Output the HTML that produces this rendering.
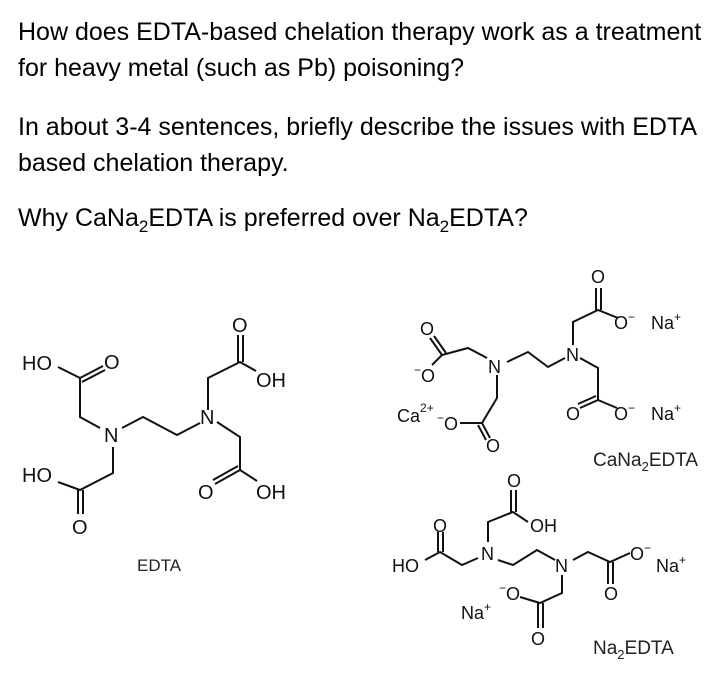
<!DOCTYPE html>
<html><head><style>
body{margin:0;width:727px;height:675px;background:#fff;overflow:hidden;font-family:"Liberation Sans",Arial,sans-serif;color:#000}
p{position:absolute;left:18px;margin:0;font-size:25px;line-height:36px;width:705px}
svg{position:absolute;left:0;top:0}
</style></head><body>
<p style="top:14px">How does EDTA-based chelation therapy work as a treatment for heavy metal (such as Pb) poisoning?</p>
<p style="top:109px">In about 3-4 sentences, briefly describe the issues with EDTA based chelation therapy.</p>
<p style="top:200px">Why CaNa<sub style="font-size:17px">2</sub>EDTA is preferred over Na<sub style="font-size:17px">2</sub>EDTA?</p>
<svg width="727" height="675" font-family="Liberation Sans, Arial, sans-serif">
<g stroke="#111" stroke-width="2" fill="none">
<path d="M58 367 L80 378 L80 417 L100 428"/>
<path d="M80 378 L103 366 M82 382 L105 370"/>
<path d="M113 447 L113 473 L80 490 L58 482"/>
<path d="M78 490 L78 514 M83 490 L83 514"/>
<path d="M122 428 L143 417 L177 435 L200 423"/>
<path d="M208 410 L208 378 L240 362 L256 371"/>
<path d="M238 362 L238 335 M243 362 L243 335"/>
<path d="M217 422 L240 437 L240 470 L257 481"/>
<path d="M240 470 L215 484 M238 466 L213 480"/>
<path d="M618 318 L598 310 L573 322 L573 345"/>
<path d="M596 310 L596 288 M601 310 L601 288"/>
<path d="M565 358 L548 367 L528 352 L507 362"/>
<path d="M487 358 L468 348 L442 355 L432 365"/>
<path d="M442 355 L430 338 M446 353 L434 336"/>
<path d="M497 375 L497 398 L482 423 L460 423"/>
<path d="M482 423 L490 438 M478 425 L486 440"/>
<path d="M580 358 L598 368 L598 400 L617 408"/>
<path d="M598 400 L580 408 M596 396 L578 404"/>
<path d="M528 522 L513 512 L488 522 L488 542"/>
<path d="M511 512 L511 490 M516 512 L516 490"/>
<path d="M478 558 L462 565 L440 552 L425 560"/>
<path d="M438 552 L438 532 M443 552 L443 532"/>
<path d="M498 560 L513 565 L537 550 L555 560"/>
<path d="M573 560 L588 552 L610 562 L630 553"/>
<path d="M608 562 L608 584 M613 562 L613 584"/>
<path d="M562 575 L562 593 L540 603 L520 597"/>
<path d="M538 603 L538 628 M543 603 L543 628"/>
</g>
<g font-size="20" fill="#111">
<text x="22" y="370">HO</text>
<text x="104" y="369">O</text>
<text x="104" y="442">N</text>
<text x="22" y="482">HO</text>
<text x="72" y="534">O</text>
<text x="200" y="424">N</text>
<text x="232" y="332">O</text>
<text x="256" y="387">OH</text>
<text x="198" y="499">O</text>
<text x="256" y="499">OH</text>
</g>
<g font-size="18" fill="#111">
<text x="591" y="283">O</text>
<text x="566" y="361">N</text>
<text x="614" y="329">O<tspan font-size="12" dy="-8">−</tspan></text>
<text x="651" y="329">Na<tspan font-size="12" dy="-8">+</tspan></text>
<text x="488" y="373">N</text>
<text x="420" y="335">O</text>
<text x="414" y="382"><tspan font-size="12" dy="-8">−</tspan><tspan dy="8">O</tspan></text>
<text x="397" y="422">Ca<tspan font-size="12" dy="-10">2+</tspan></text>
<text x="437" y="430"><tspan font-size="12" dy="-8">−</tspan><tspan dy="8">O</tspan></text>
<text x="486" y="452">O</text>
<text x="566" y="420">O</text>
<text x="614" y="420">O<tspan font-size="12" dy="-8">−</tspan></text>
<text x="651" y="420">Na<tspan font-size="12" dy="-8">+</tspan></text>
<text x="507" y="487">O</text>
<text x="530" y="532">OH</text>
<text x="481" y="560">N</text>
<text x="433" y="532">O</text>
<text x="392" y="572">HO</text>
<text x="555" y="572">N</text>
<text x="630" y="560">O<tspan font-size="12" dy="-8">−</tspan></text>
<text x="656" y="572">Na<tspan font-size="12" dy="-8">+</tspan></text>
<text x="604" y="600">O</text>
<text x="499" y="600"><tspan font-size="12" dy="-8">−</tspan><tspan dy="8">O</tspan></text>
<text x="531" y="645">O</text>
<text x="461" y="619">Na<tspan font-size="12" dy="-8">+</tspan></text>
</g>
<g font-size="17" fill="#222">
<text x="137" y="571">EDTA</text>
</g>
<g font-size="19" fill="#222">
<text x="593" y="466">CaNa<tspan font-size="13" dy="5">2</tspan><tspan dy="-5">EDTA</tspan></text>
<text x="593" y="654">Na<tspan font-size="13" dy="5">2</tspan><tspan dy="-5">EDTA</tspan></text>
</g>
</svg>
</body></html>
